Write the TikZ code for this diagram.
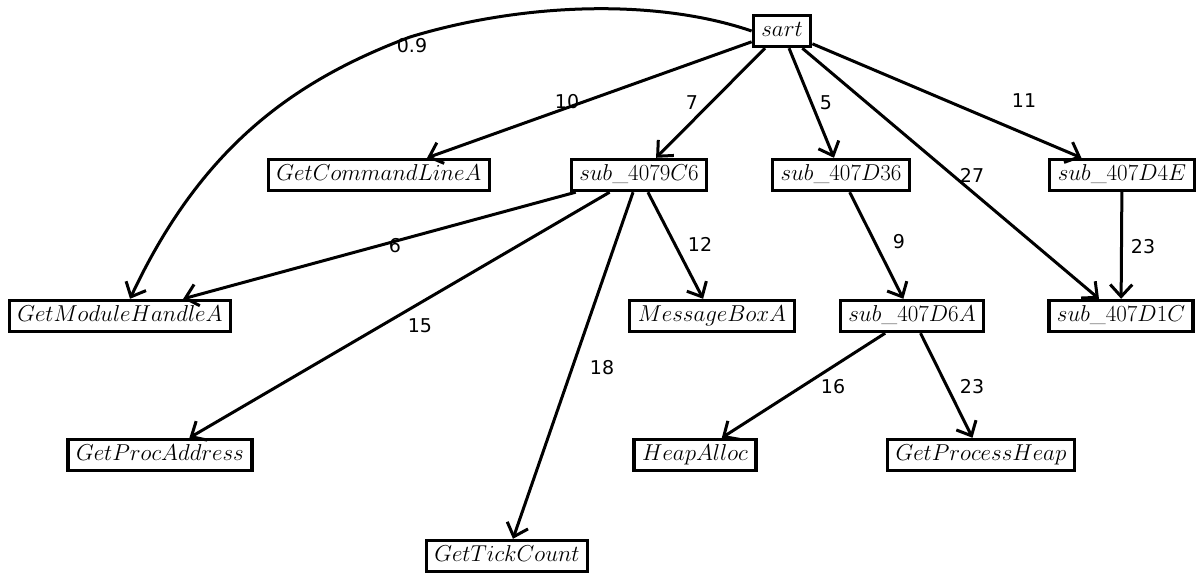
\RequirePackage{fix-cm}
\documentclass[tikz,border=0pt]{standalone}
\usepackage{fontspec}
\newfontfamily\lblfont{DejaVu Sans}
\usetikzlibrary{arrows.meta}
\begin{document}
\begin{tikzpicture}[x=1pt,y=-1pt,
  fn/.style={draw, line width=3.4pt, inner xsep=8pt, inner ysep=5pt, text height=16pt, text depth=5pt, font=\fontsize{23}{27}\selectfont},
  edge/.style={line width=3pt, -{Straight Barb[length=12pt,width=22pt,line width=3pt]}},
  lbl/.style={font=\lblfont\fontsize{19}{22}\selectfont, inner sep=0pt}]
\useasboundingbox (0,0) rectangle (1200,575);
\node[fn] (sart) at (782,31) {$sart$};
\node[fn] (gcl) at (379,175) {$GetCommandLineA$};
\node[fn] (s9c6) at (639,175) {$sub\_4079C6$};
\node[fn] (d36) at (841,175) {$sub\_407D36$};
\node[fn] (d4e) at (1122,175) {$sub\_407D4E$};
\node[fn] (gmh) at (120,316) {$GetModuleHandleA$};
\node[fn] (mba) at (712,316) {$MessageBoxA$};
\node[fn] (d6a) at (912,316) {$sub\_407D6A$};
\node[fn] (d1c) at (1121,316) {$sub\_407D1C$};
\node[fn] (gpa) at (160,455) {$GetProcAddress$};
\node[fn] (ha) at (695,455) {$HeapAlloc$};
\node[fn] (gph) at (981,455) {$GetProcessHeap$};
\node[fn] (gtc) at (507,556) {$GetTickCount$};

\draw[edge] (sart.west) .. controls (655,-2) and (522,3) .. (410,37) .. controls (290,82) and (200,150) .. ([xshift=10pt]gmh.north);
\draw[edge] (sart) -- (gcl);
\draw[edge] (sart) -- (s9c6);
\draw[edge] (sart) -- (d36);
\draw[edge] (sart) -- ([xshift=-22pt]d1c.north);
\draw[edge] (sart) -- (d4e);
\draw[edge] (s9c6) -- (gmh);
\draw[edge] (s9c6) -- (gpa);
\draw[edge] (s9c6) -- (gtc);
\draw[edge] (s9c6) -- (mba);
\draw[edge] (d36) -- (d6a);
\draw[edge] (d4e) -- (d1c);
\draw[edge] (d6a) -- (ha);
\draw[edge] (d6a) -- (gph);

\node[lbl] (l09) at (412,46) {0.9};
\node[lbl] (l10) at (567,102) {10};
\node[lbl] (l7) at (692,103) {7};
\node[lbl] (l5) at (826,103) {5};
\node[lbl] (l11) at (1024,101) {11};
\node[lbl] (l27) at (972,175) {27};
\node[lbl] (l6) at (395,246) {6};
\node[lbl] (l12) at (700,244) {12};
\node[lbl] (l9) at (899,242) {9};
\node[lbl] (l23a) at (1143,247) {23};
\node[lbl] (l15) at (420,326) {15};
\node[lbl] (l18) at (602,368) {18};
\node[lbl] (l16) at (833,387) {16};
\node[lbl] (l23b) at (972,387) {23};
\end{tikzpicture}
\end{document}
